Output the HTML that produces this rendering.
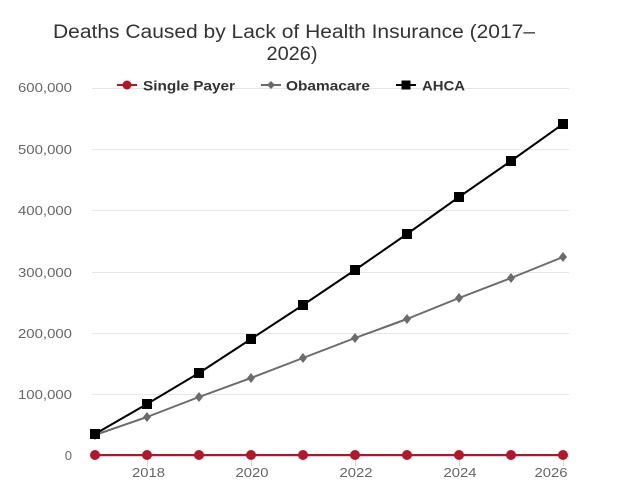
<!DOCTYPE html>
<html><head><meta charset="utf-8"><style>
html,body{margin:0;padding:0;background:#fff;}
svg{display:block;}
text{font-family:"Liberation Sans",sans-serif;}
</style></head><body>
<svg width="624" height="498" viewBox="0 0 624 498" xmlns="http://www.w3.org/2000/svg">
<rect width="624" height="498" fill="#fff"/>
<!-- title -->
<text x="294" y="38" text-anchor="middle" font-size="19" fill="#333" textLength="482" lengthAdjust="spacingAndGlyphs">Deaths Caused by Lack of Health Insurance (2017–</text>
<text x="292" y="60" text-anchor="middle" font-size="19" fill="#333" textLength="51" lengthAdjust="spacingAndGlyphs">2026)</text>
<!-- gridlines -->
<g stroke="#e6e6e6" stroke-width="1">
<line x1="92" y1="88.5" x2="569" y2="88.5"/>
<line x1="92" y1="149.5" x2="569" y2="149.5"/>
<line x1="92" y1="210.5" x2="569" y2="210.5"/>
<line x1="92" y1="272.5" x2="569" y2="272.5"/>
<line x1="92" y1="333.5" x2="569" y2="333.5"/>
<line x1="92" y1="394.5" x2="569" y2="394.5"/>
</g>
<!-- axis -->
<line x1="92" y1="456.5" x2="569" y2="456.5" stroke="#ccd6eb" stroke-width="1"/>
<g stroke="#ccd6eb" stroke-width="1">
<line x1="147.5" y1="456" x2="147.5" y2="466"/>
<line x1="251.5" y1="456" x2="251.5" y2="466"/>
<line x1="355.5" y1="456" x2="355.5" y2="466"/>
<line x1="459.5" y1="456" x2="459.5" y2="466"/>
<line x1="563.5" y1="456" x2="563.5" y2="466"/>
</g>
<!-- y labels -->
<g font-size="13" fill="#666" text-anchor="end">
<text x="72" y="92" textLength="54" lengthAdjust="spacingAndGlyphs">600,000</text>
<text x="72" y="154" textLength="54" lengthAdjust="spacingAndGlyphs">500,000</text>
<text x="72" y="215" textLength="54" lengthAdjust="spacingAndGlyphs">400,000</text>
<text x="72" y="277" textLength="54" lengthAdjust="spacingAndGlyphs">300,000</text>
<text x="72" y="338" textLength="54" lengthAdjust="spacingAndGlyphs">200,000</text>
<text x="72" y="399" textLength="54" lengthAdjust="spacingAndGlyphs">100,000</text>
<text x="72" y="460">0</text>
</g>
<!-- x labels -->
<g font-size="13" fill="#666" text-anchor="middle">
<text x="148.5" y="477" textLength="33" lengthAdjust="spacingAndGlyphs">2018</text>
<text x="252" y="477" textLength="33" lengthAdjust="spacingAndGlyphs">2020</text>
<text x="356" y="477" textLength="33" lengthAdjust="spacingAndGlyphs">2022</text>
<text x="460" y="477" textLength="33" lengthAdjust="spacingAndGlyphs">2024</text>
<text x="551" y="477" textLength="33" lengthAdjust="spacingAndGlyphs">2026</text>
</g>
<!-- Obamacare -->
<polyline fill="none" stroke="#6b6b6b" stroke-width="2" stroke-linejoin="round" points="95,435 147,417 199,397 251,378 303,358 355,338 407,319 459,298 511,278 563,257"/>
<g fill="#6b6b6b">
<path d="M95,430 l4,5 l-4,5 l-4,-5z"/>
<path d="M147,412 l4,5 l-4,5 l-4,-5z"/>
<path d="M199,392 l4,5 l-4,5 l-4,-5z"/>
<path d="M251,373 l4,5 l-4,5 l-4,-5z"/>
<path d="M303,353 l4,5 l-4,5 l-4,-5z"/>
<path d="M355,333 l4,5 l-4,5 l-4,-5z"/>
<path d="M407,314 l4,5 l-4,5 l-4,-5z"/>
<path d="M459,293 l4,5 l-4,5 l-4,-5z"/>
<path d="M511,273 l4,5 l-4,5 l-4,-5z"/>
<path d="M563,252 l4,5 l-4,5 l-4,-5z"/>
</g>
<!-- AHCA -->
<polyline fill="none" stroke="#000" stroke-width="2" stroke-linejoin="round" points="95,434 147,404 199,373 251,339 303,305 355,270 407,234 459,197 511,161 563,124"/>
<g fill="#000">
<rect x="90" y="429" width="10" height="10"/>
<rect x="142" y="399" width="10" height="10"/>
<rect x="194" y="368" width="10" height="10"/>
<rect x="246" y="334" width="10" height="10"/>
<rect x="298" y="300" width="10" height="10"/>
<rect x="350" y="265" width="10" height="10"/>
<rect x="402" y="229" width="10" height="10"/>
<rect x="454" y="192" width="10" height="10"/>
<rect x="506" y="156" width="10" height="10"/>
<rect x="558" y="119" width="10" height="10"/>
</g>
<!-- Single Payer -->
<line x1="95" y1="455" x2="563" y2="455" stroke="#b5152b" stroke-width="2"/>
<g fill="#b5152b">
<circle cx="95" cy="455" r="5"/>
<circle cx="147" cy="455" r="5"/>
<circle cx="199" cy="455" r="5"/>
<circle cx="251" cy="455" r="5"/>
<circle cx="303" cy="455" r="5"/>
<circle cx="355" cy="455" r="5"/>
<circle cx="407" cy="455" r="5"/>
<circle cx="459" cy="455" r="5"/>
<circle cx="511" cy="455" r="5"/>
<circle cx="563" cy="455" r="5"/>
</g>
<!-- legend -->
<g>
<line x1="117" y1="85" x2="137" y2="85" stroke="#b5152b" stroke-width="2"/>
<circle cx="127" cy="85" r="4.5" fill="#b5152b"/>
<text x="143" y="90.5" font-size="14" font-weight="bold" fill="#333" textLength="92" lengthAdjust="spacingAndGlyphs">Single Payer</text>
<line x1="261" y1="85" x2="281" y2="85" stroke="#6b6b6b" stroke-width="2"/>
<path d="M271,81 l4,4 l-4,4 l-4,-4z" fill="#6b6b6b"/>
<text x="286" y="90.5" font-size="14" font-weight="bold" fill="#333" textLength="84" lengthAdjust="spacingAndGlyphs">Obamacare</text>
<line x1="396" y1="85" x2="416" y2="85" stroke="#000" stroke-width="2"/>
<rect x="401.5" y="80.5" width="9" height="9" fill="#000"/>
<text x="422" y="90.5" font-size="14" font-weight="bold" fill="#333" textLength="43" lengthAdjust="spacingAndGlyphs">AHCA</text>
</g>
</svg>
</body></html>
